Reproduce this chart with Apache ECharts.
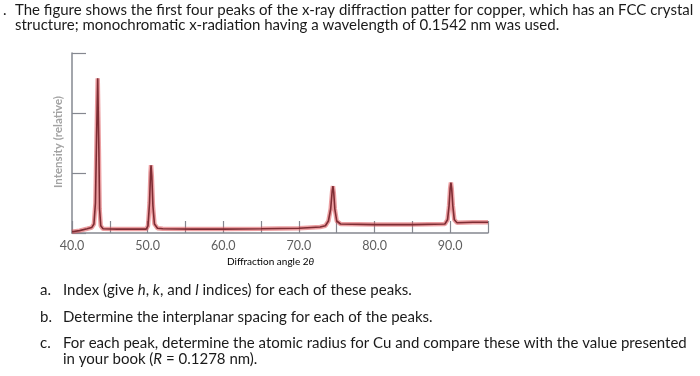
<!DOCTYPE html>
<html>
<head>
<meta charset="utf-8">
<script src="https://cdn.jsdelivr.net/npm/echarts@6/dist/echarts.min.js"></script>
<style>
html,body{margin:0;padding:0;background:#fff;}
#c{width:700px;height:376px;}
</style>
</head>
<body>
<div id="c"></div>
<script>
// Diffraction angle 2θ (degrees)
const angles = [
  40, 41, 42, 42.6, 42.9, 43.1, 43.25, 43.4, 43.55, 43.65, 43.8, 44.1,
  46, 48, 49.8, 50.05, 50.25, 50.38, 50.45, 50.55, 50.7, 50.9, 51.3, 52,
  56, 60, 65, 70, 72.8, 73.5, 73.9, 74.2, 74.4, 74.5, 74.6, 74.75, 75.0, 75.5,
  80, 85, 89.3, 89.65, 89.85, 90.0, 90.1, 90.2, 90.35, 90.55, 90.9, 93, 95
];
// Intensity (relative)
const intensity = [
  0.02, 0.04, 0.07, 0.09, 0.15, 0.5, 1.6, 2.58, 1.4, 0.4, 0.12, 0.07,
  0.065, 0.065, 0.065, 0.12, 0.5, 1.0, 1.13, 0.95, 0.45, 0.15, 0.08, 0.07,
  0.065, 0.065, 0.07, 0.08, 0.1, 0.12, 0.2, 0.4, 0.7, 0.78, 0.68, 0.4, 0.2, 0.15,
  0.14, 0.14, 0.15, 0.22, 0.45, 0.75, 0.84, 0.74, 0.45, 0.22, 0.17, 0.18, 0.18
];
const xMin = 40, xMax = 95, xStep = 5;
const yMax = 3, yStep = 1;

const pts = angles.map((a, i) => [a, intensity[i]]);
const F = 'Lato, "Open Sans", sans-serif';
const textColor = '#1a1a1a';
const FS = 15;
const rs = {
  r: {fontFamily: F, fontSize: FS, color: textColor},
  i: {fontFamily: F, fontSize: FS, color: textColor, fontStyle: 'italic'}
};
function txt(x, y, s) {
  return {type: 'text', x: x, y: y, style: {text: s, rich: rs, font: FS + 'px ' + F, fill: textColor, verticalAlign: 'middle', textVerticalAlign: 'middle'}};
}

const chart = echarts.init(document.getElementById('c'));
chart.setOption({
  animation: false,
  backgroundColor: '#fff',
  grid: {left: 72, right: 212, top: 53, bottom: 143},
  xAxis: {
    type: 'value', min: xMin, max: xMax, interval: xStep,
    axisLine: {lineStyle: {color: '#858890', width: 1.5}},
    axisTick: {inside: true, length: 12, lineStyle: {color: '#858890', width: 1.2}},
    axisLabel: {
      color: '#5e5e5e', fontSize: 12.5, fontFamily: F, margin: 6,
      showMinLabel: true, showMaxLabel: true,
      formatter: v => (v % 10 === 0 ? v.toFixed(1) : '')
    },
    splitLine: {show: false}
  },
  yAxis: {
    type: 'value', min: 0, max: yMax, interval: yStep,
    axisLine: {show: true, lineStyle: {color: '#858890', width: 1.5}},
    axisTick: {show: true, inside: true, length: 14, lineStyle: {color: '#858890', width: 1.2}},
    axisLabel: {show: false},
    splitLine: {show: false}
  },
  series: [
    {type: 'line', data: pts, showSymbol: false, silent: true,
     lineStyle: {color: 'rgba(220,80,85,0.55)', width: 4.5}},
    {type: 'line', data: pts, showSymbol: false, silent: true,
     lineStyle: {color: '#7e2c33', width: 1.6}}
  ],
  graphic: [
    txt(3, 10, '{r|.}'),
    txt(15, 10, '{r|The figure shows the first four peaks of the x-ray diffraction patter for copper, which has an FCC crystal}'),
    txt(15, 25, '{r|structure; monochromatic x-radiation having a wavelength of 0.1542 nm was used.}'),
    {type: 'text', x: 58, y: 142, rotation: Math.PI / 2,
     style: {text: 'Intensity (relative)', font: 'bold 11.5px ' + F, fill: '#a3a3a3', align: 'center', verticalAlign: 'middle', textAlign: 'center', textVerticalAlign: 'middle'}},
    {type: 'text', x: 227, y: 262,
     style: {text: '{n|Diffraction angle 2}{t|θ}', rich: {
        n: {fontFamily: F, fontSize: 10, color: '#555'},
        t: {fontFamily: F, fontSize: 10, color: '#555', fontStyle: 'italic'}},
       verticalAlign: 'middle', textVerticalAlign: 'middle'}},
    txt(40, 290, '{r|a.}'),
    txt(63, 290, '{r|Index (give }{i|h}{r|, }{i|k}{r|, and }{i|l}{r| indices) for each of these peaks.}'),
    txt(40, 317, '{r|b.}'),
    txt(63, 317, '{r|Determine the interplanar spacing for each of the peaks.}'),
    txt(40, 343, '{r|c.}'),
    txt(63, 343, '{r|For each peak, determine the atomic radius for Cu and compare these with the value presented}'),
    txt(63, 359, '{r|in your book (}{i|R}{r| = 0.1278 nm).}')
  ]
});
</script>
</body>
</html>
